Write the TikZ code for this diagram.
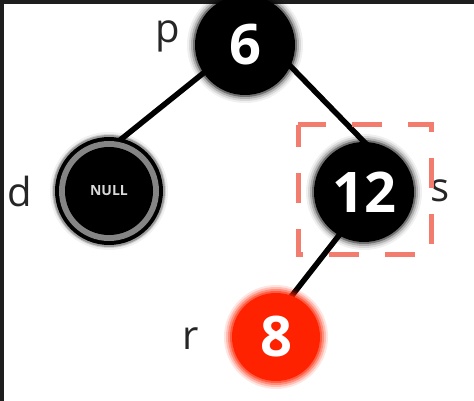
\documentclass[tikz,border=0pt]{standalone}
\usepackage{fontspec}
\setmainfont{Open Sans}
\usetikzlibrary{backgrounds}
\definecolor{frame}{HTML}{1E1E1E}
\definecolor{salmon}{HTML}{F27D6F}
\definecolor{rednode}{HTML}{FF2200}
\definecolor{ringgray}{HTML}{858585}
\tikzset{
  blacknode/.style={circle, fill=black, minimum size=100pt, inner sep=0pt, text=white, font=\bfseries\fontsize{56}{60}\selectfont},
  nullnode/.style={circle, fill=black, minimum size=108pt, inner sep=0pt, text=white, font=\bfseries\fontsize{14}{16}\selectfont},
  rednode/.style={circle, fill=rednode, minimum size=88pt, inner sep=0pt, text=white, font=\bfseries\fontsize{56}{60}\selectfont},
  lbl/.style={font=\fontsize{40}{44}\selectfont, text=black!85, inner sep=0pt},
  edge/.style={line width=5.5pt, black, shorten <=-6pt, shorten >=-6pt},
  selbox/.style={draw=salmon, line width=5pt, dash pattern=on 30pt off 26pt, dash phase=8pt}
}
\begin{document}
\begin{tikzpicture}[x=1pt,y=-1pt]
\useasboundingbox (0,0) rectangle (474,401);
% halos
\foreach \r/\o in {58/0.06,56/0.1,54/0.18,52/0.35}{
  \fill[black,opacity=\o] (245,45) circle (\r);
  \fill[black,opacity=\o] (364,192) circle (\r);
}
\foreach \r/\o in {59/0.06,57/0.12,56/0.25}{
  \fill[black,opacity=\o] (109,191) circle (\r);
}
\foreach \r/\o in {52/0.12,50/0.2,48/0.3,46/0.45}{
  \fill[rednode,opacity=\o] (276,337) circle (\r);
}
% nodes
\node[blacknode] (n6) at (245,45) {6};
\node[nullnode] (nnull) at (109,191) {};
\fill[ringgray] (nnull.center) circle (50);
\fill[black] (nnull.center) circle (44);
\node[font=\bfseries\fontsize{14}{16}\selectfont, text=white!85!black] (nulltext) at (nnull.center) {NULL};
\node[blacknode] (n12) at (364,192) {12};
\node[rednode] (n8) at (276,337) {8};
% labels
\node[lbl] (lp) at (168,36) {p};
\node[lbl] (ld) at (20,191) {d};
\node[lbl] (ls) at (440,191) {s};
\node[lbl] (lr) at (191,339) {r};
% selection box
\draw[selbox] (298,125) rectangle (431,254);
% edges and page on the background layer
\begin{scope}[on background layer]
\fill[white] (0,0) rectangle (474,401);
\fill[frame] (0,0) rectangle (474,4);
\fill[frame] (0,0) rectangle (4,401);
\draw[edge] (n6.-146) -- (nnull.76);
\draw[edge] (n6.-25) -- (n12.north);
\draw[edge] (n12.-120) -- (n8.69);
\end{scope}
\end{tikzpicture}
\end{document}
